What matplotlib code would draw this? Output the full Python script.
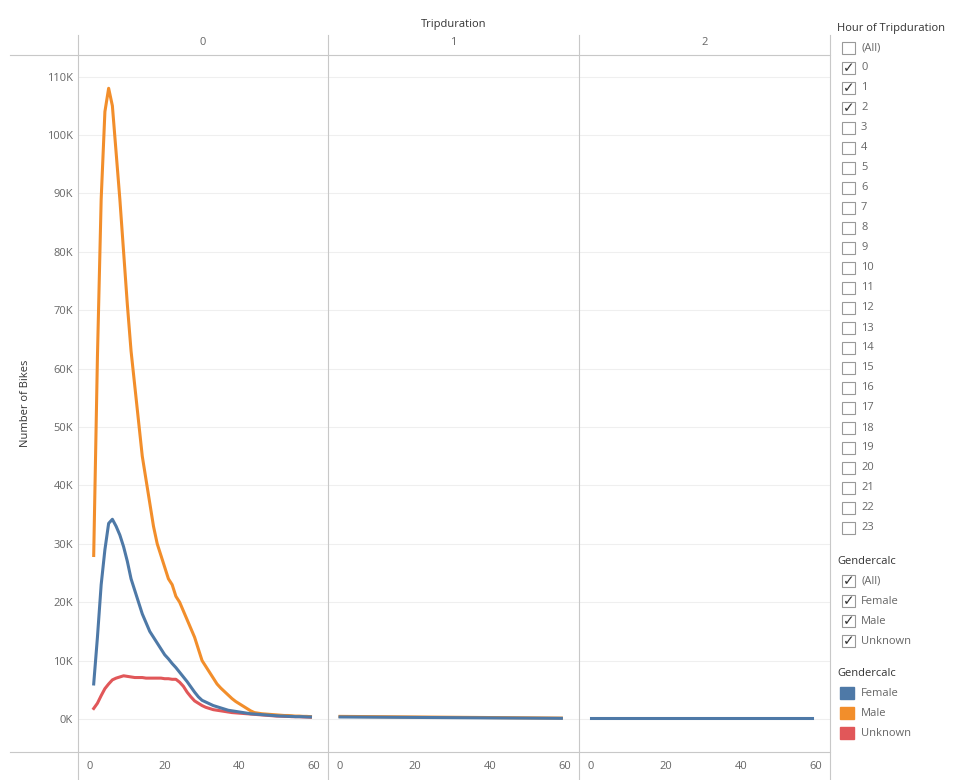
import matplotlib.pyplot as plt
from matplotlib.patches import Rectangle

plt.rcParams['font.family'] = ['Open Sans', 'DejaVu Sans']

minutes = list(range(1, 60))
male = [28, 62, 89, 104, 108, 105, 97, 89, 80, 71, 63, 57, 51, 45, 41, 37, 33, 30, 28, 26,
        24, 23, 21, 20, 18.5, 17, 15.5, 14, 12, 10, 9, 8, 7, 6, 5.3, 4.7, 4.1, 3.5, 3.0, 2.6,
        2.2, 1.8, 1.4, 1.1, 1.0, 0.9, 0.85, 0.8, 0.75, 0.7, 0.65, 0.6, 0.6, 0.55, 0.5, 0.5, 0.45,
        0.45, 0.4]
female = [6, 14, 23, 29, 33.5, 34.2, 33, 31.5, 29.5, 27, 24, 22, 20, 18, 16.5, 15, 14, 13, 12, 11,
          10.3, 9.5, 8.8, 8, 7.2, 6.4, 5.5, 4.6, 3.8, 3.2, 2.9, 2.6, 2.3, 2.1, 1.9, 1.7, 1.5, 1.4, 1.3, 1.2,
          1.1, 1.0, 0.9, 0.85, 0.8, 0.75, 0.7, 0.65, 0.6, 0.55, 0.5, 0.5, 0.45, 0.45, 0.4, 0.4, 0.4,
          0.35, 0.35]
unknown = [1.8, 2.7, 4.0, 5.2, 6.0, 6.7, 7.0, 7.2, 7.4, 7.3, 7.2, 7.1, 7.1, 7.1, 7.0, 7.0, 7.0, 7.0, 7.0, 6.9,
           6.9, 6.8, 6.8, 6.3, 5.6, 4.6, 3.8, 3.1, 2.7, 2.3, 2.0, 1.8, 1.6, 1.5, 1.4, 1.3, 1.2, 1.1, 1.05, 1.0,
           0.95, 0.9, 0.85, 0.8, 0.75, 0.7, 0.65, 0.6, 0.55, 0.5, 0.5, 0.45, 0.45, 0.4, 0.4, 0.4, 0.35,
           0.35, 0.3]
minutes_late = list(range(0, 60))
male_h1 = [0.45 - 0.005 * i for i in range(60)]
female_h1 = [0.35 - 0.004 * i for i in range(60)]
female_h2 = [0.12] * 60

hours = ['0', '1', '2']
gender_colors = {'Female': '#4e79a7', 'Male': '#f28e2b', 'Unknown': '#e15759'}
grey = '#666666'
line_c = '#c8c8c8'

W, H = 966, 780
fig = plt.figure(figsize=(9.66, 7.8), dpi=100)

def fx(px): return px / W
def fy(py): return 1 - py / H

edges = [78, 328, 579, 830]
axes = []
for i in range(3):
    ax = fig.add_axes([fx(edges[i]), fy(752), fx(edges[i + 1] - edges[i]), fy(55) - fy(752)])
    axes.append(ax)
    ax.set_xlim(-3.2, 63.7)
    ax.set_ylim(-5.65, 113.7)
    for s in ['top', 'right', 'bottom']:
        ax.spines[s].set_visible(False)
    ax.spines['left'].set_color(line_c)
    ax.set_yticks(range(0, 111, 10))
    ax.grid(axis='y', color='#efefef', lw=0.8)
    ax.set_axisbelow(True)
    ax.set_xticks([])
    ax.tick_params(axis='y', length=0, labelcolor=grey, labelsize=8)
    if i == 0:
        ax.set_yticklabels([f'{v}K' for v in range(0, 111, 10)])
    else:
        ax.set_yticklabels([])
    ax.text(0.5, 1 + 13 / 697, hours[i], transform=ax.transAxes, ha='center', va='center',
            color=grey, fontsize=8)
    # bottom tick area
    bx = fig.add_axes([fx(edges[i]), 0, fx(edges[i + 1] - edges[i]), fy(752)])
    bx.set_xlim(-3.2, 63.7)
    bx.set_ylim(0, 1)
    bx.set_yticks([])
    bx.set_xticks([0, 20, 40, 60])
    bx.tick_params(axis='x', length=0, direction='in', pad=-14, labelcolor=grey, labelsize=8)
    for s in ['top', 'right', 'bottom']:
        bx.spines[s].set_visible(False)
    bx.spines['left'].set_color(line_c)
    bx.patch.set_alpha(0)

axes[0].plot(minutes, unknown, color=gender_colors['Unknown'], lw=2.2)
axes[0].plot(minutes, male, color=gender_colors['Male'], lw=2.2)
axes[0].plot(minutes, female, color=gender_colors['Female'], lw=2.2)
axes[1].plot(minutes_late, male_h1, color=gender_colors['Male'], lw=2.2)
axes[1].plot(minutes_late, female_h1, color=gender_colors['Female'], lw=2.2)
axes[2].plot(minutes_late, female_h2, color=gender_colors['Female'], lw=2.2)

# frame lines
fig.add_artist(plt.Line2D([fx(10), fx(830)], [fy(55), fy(55)], color=line_c, lw=0.8))
fig.add_artist(plt.Line2D([fx(10), fx(830)], [fy(752), fy(752)], color=line_c, lw=0.8))
for e in edges[:3]:
    fig.add_artist(plt.Line2D([fx(e), fx(e)], [fy(35), fy(55)], color=line_c, lw=0.8))
fig.add_artist(plt.Line2D([fx(830), fx(830)], [fy(35), fy(780)], color=line_c, lw=0.8))

fig.text(fx(454), fy(25), 'Tripduration', ha='center', va='center', fontsize=8, color='#333333')
fig.text(fx(26), fy(403), 'Number of Bikes', rotation=90, ha='center', va='center', fontsize=8, color='#333333')

# filter legends
def checkbox(y, label, checked):
    fig.add_artist(Rectangle((fx(842), fy(y + 6)), fx(13), fy(y - 6) - fy(y + 6),
                             fill=False, ec='#999999', lw=0.8))
    if checked:
        fig.text(fx(848.5), fy(y), '✓', ha='center', va='center', fontsize=10, color='#333333',
                 family=['DejaVu Sans'])
    fig.text(fx(861), fy(y), label, ha='left', va='center', fontsize=8, color=grey)

fig.text(fx(837), fy(28), 'Hour of Tripduration', ha='left', va='center', fontsize=8, color='#333333')
checkbox(48, '(All)', False)
for h in range(24):
    checkbox(68 + 20 * h, str(h), h < 3)

fig.text(fx(837), fy(562), 'Gendercalc', ha='left', va='center', fontsize=8, color='#333333')
for j, lab in enumerate(['(All)', 'Female', 'Male', 'Unknown']):
    checkbox(581 + 20 * j, lab, True)

fig.text(fx(837), fy(673), 'Gendercalc', ha='left', va='center', fontsize=8, color='#333333')
for j, (lab, c) in enumerate(gender_colors.items()):
    y = 693 + 20 * j
    fig.add_artist(Rectangle((fx(840), fy(y + 6)), fx(14), fy(y - 6) - fy(y + 6), color=c))
    fig.text(fx(861), fy(y), lab, ha='left', va='center', fontsize=8, color=grey)

fig.savefig('out.png', dpi=100)
